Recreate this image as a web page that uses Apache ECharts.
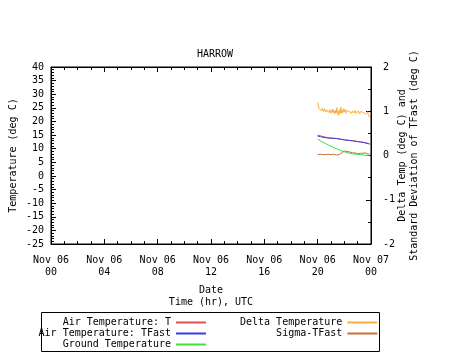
<!DOCTYPE html>
<html><head><meta charset="utf-8">
<script src="https://cdn.jsdelivr.net/npm/echarts@6/dist/echarts.min.js"></script>
<style>html,body{margin:0;padding:0;background:#fff}#c{width:474px;height:355px}</style>
</head><body><div id="c"></div>
<script>
var xTickLabels = ['Nov 06\n00','Nov 06\n04','Nov 06\n08','Nov 06\n12','Nov 06\n16','Nov 06\n20','Nov 07\n00'];
var hours = [20.0,20.1,20.2,20.3,20.4,20.5,20.6,20.7,20.8,20.9,
  21.0,21.1,21.2,21.3,21.4,21.5,21.6,21.7,21.8,21.9,
  22.0,22.1,22.2,22.3,22.4,22.5,22.6,22.7,22.8,22.9,
  23.0,23.1,23.2,23.3,23.4,23.5,23.6,23.7,23.8,23.9];
var airT = [14.9,14.8,14.75,14.6,14.45,14.35,14.25,14.1,14.0,13.98,
  13.9,13.85,13.85,13.8,13.75,13.75,13.65,13.55,13.45,13.35,
  13.3,13.25,13.15,13.1,13.05,13.0,12.95,12.85,12.8,12.7,
  12.65,12.55,12.5,12.45,12.35,12.3,12.15,12.05,11.9,11.75];
var airTFast = [14.6,14.5,14.45,14.3,14.2,14.1,14.05,13.95,13.9,13.9,
  13.85,13.8,13.8,13.75,13.7,13.7,13.6,13.5,13.4,13.3,
  13.25,13.2,13.1,13.05,13.0,12.95,12.9,12.8,12.75,12.65,
  12.6,12.5,12.45,12.4,12.3,12.25,12.1,12.0,11.85,11.7];
var groundT = [13.5,13.2,12.9,12.6,12.35,12.1,11.85,11.6,11.4,11.15,
  10.9,10.65,10.4,10.2,10.0,9.8,9.6,9.4,9.2,9.05,
  8.9,8.7,8.55,8.4,8.3,8.2,8.15,8.05,8.0,7.95,
  7.9,7.85,7.8,7.75,7.7,7.65,7.6,7.55,7.5,7.4];
var sigmaTFast = [0.02,0.00,0.03,0.01,0.02,0.00,0.02,0.01,0.03,0.01,
  0.02,0.00,0.03,0.02,0.01,0.03,0.02,0.05,0.06,0.08,
  0.10,0.07,0.09,0.06,0.08,0.05,0.06,0.04,0.06,0.05,
  0.04,0.06,0.05,0.03,0.05,0.04,0.06,0.04,0.03,0.05];
var hoursFine = [20.00,20.05,20.10,20.15,20.20,20.25,20.30,20.35,20.40,20.45,
  20.50,20.55,20.60,20.65,20.70,20.75,20.80,20.85,20.90,20.95,
  21.00,21.05,21.10,21.15,21.20,21.25,21.30,21.35,21.40,21.45,
  21.50,21.55,21.60,21.65,21.70,21.75,21.80,21.85,21.90,21.95,
  22.00,22.05,22.10,22.15,22.20,22.25,22.30,22.35,22.40,22.45,
  22.50,22.55,22.60,22.65,22.70,22.75,22.80,22.85,22.90,22.95,
  23.00,23.05,23.10,23.15,23.20,23.25,23.30,23.35,23.40,23.45,
  23.50,23.55,23.60,23.65,23.70,23.75,23.80,23.85,23.90];
var deltaT = [1.20,1.12,1.06,1.10,1.03,1.08,1.01,1.07,1.04,0.99,
  1.06,1.02,1.08,0.98,1.03,1.00,1.06,0.97,1.04,1.00,
  0.95,1.03,0.98,1.05,0.96,1.01,0.94,1.02,0.97,1.08,
  0.93,1.00,0.91,1.04,0.96,1.09,0.95,1.02,0.97,1.06,
  0.99,1.04,0.95,1.01,0.97,1.03,0.98,1.00,0.96,1.02,
  0.99,0.95,1.01,0.97,1.00,0.96,1.02,0.98,0.95,0.99,
  0.96,1.01,0.97,0.94,0.99,0.96,1.00,0.95,0.98,0.94,
  0.99,0.96,0.93,0.97,0.95,0.99,0.92,0.96,0.86];

var colors = {
  'Air Temperature: T':'#e8504f',
  'Air Temperature: TFast':'#3a3ae0',
  'Ground Temperature':'#3ee03e',
  'Delta Temperature':'#ffad33',
  'Sigma-TFast':'#c8703a'
};
function pairs(xs, ys){ return xs.map(function(x,i){ return [x, ys[i]]; }); }
var F = 'DejaVu Sans Mono';
var txt = {fontFamily:F, fontSize:10, color:'#000'};
var chart = echarts.init(document.getElementById('c'), null, {renderer:'canvas'});
function lineSeries(name, data, yi){
  var color = colors[name];
  return {name:name, type:'line', data:data, yAxisIndex:yi, xAxisIndex:0, symbol:'none', showSymbol:false,
    lineStyle:{width:1, color:color}, itemStyle:{color:color}, color:color, animation:false, silent:true};
}
function legendItems(names){
  return names.map(function(n){ return {name:n, itemStyle:{color:colors[n]}}; });
}
var axisCommon = {
  axisLine:{show:true, onZero:false, lineStyle:{color:'#000', width:1}},
  axisTick:{show:true, inside:true, length:5, lineStyle:{color:'#000'}},
  splitLine:{show:false},
  nameMoveOverlap:false
};
chart.setOption({
  animation:false,
  title:{text:'HARROW', left:210, top:44, textAlign:'center', textStyle:{fontFamily:F, fontSize:10, fontWeight:'normal', color:'#000'}},
  grid:{left:50, right:103, top:67, bottom:111, show:true, borderColor:'#000', borderWidth:1},
  xAxis:[
    Object.assign({}, axisCommon, {type:'value', min:0, max:24, interval:4, position:'bottom',
      minorTick:{show:true, splitNumber:4, length:3, lineStyle:{color:'#000'}},
      axisLabel:Object.assign({}, txt, {margin:10, lineHeight:12, formatter:function(v){ return xTickLabels[Math.round(v/4)]; }}),
      name:'Date\nTime (hr), UTC', nameLocation:'middle', nameGap:40,
      nameTextStyle:Object.assign({}, txt, {lineHeight:12, verticalAlign:'top'})}),
    Object.assign({}, axisCommon, {type:'value', min:0, max:24, interval:4, position:'top',
      minorTick:{show:true, splitNumber:4, length:3, lineStyle:{color:'#000'}},
      axisLabel:{show:false}})
  ],
  yAxis:[
    Object.assign({}, axisCommon, {type:'value', min:-25, max:40, interval:5, position:'left',
      minorTick:{show:true, splitNumber:5, length:3, lineStyle:{color:'#000'}},
      axisLabel:Object.assign({}, txt, {margin:7}),
      name:'Temperature (deg C)', nameLocation:'middle', nameGap:33, nameRotate:90,
      nameTextStyle:Object.assign({}, txt)}),
    Object.assign({}, axisCommon, {type:'value', min:-2, max:2, interval:1, position:'right',
      minorTick:{show:true, splitNumber:2, length:3, lineStyle:{color:'#000'}},
      axisLabel:Object.assign({}, txt, {margin:12}),
      name:'Delta Temp (deg C) and\nStandard Deviation of TFast (deg C)', nameLocation:'middle', nameGap:25, nameRotate:90,
      nameTextStyle:Object.assign({}, txt, {lineHeight:12})})
  ],
  legend:[
    {data:legendItems(['Air Temperature: T','Air Temperature: TFast','Ground Temperature']), orient:'vertical', align:'right',
      left:38, top:317, padding:0, itemGap:0, itemWidth:30, itemHeight:2, icon:'rect', selectedMode:false,
      textStyle:Object.assign({}, txt, {width:133, lineHeight:11, align:'right'})},
    {data:legendItems(['Delta Temperature','Sigma-TFast']), orient:'vertical', align:'right',
      left:240, top:317, padding:0, itemGap:0, itemWidth:30, itemHeight:2, icon:'rect', selectedMode:false,
      textStyle:Object.assign({}, txt, {width:102, lineHeight:11, align:'right'})}
  ],
  graphic:[{type:'rect', shape:{x:41.5, y:312.5, width:338, height:39}, style:{fill:'none', stroke:'#000', lineWidth:1}, silent:true}],
  series:[
    lineSeries('Air Temperature: T', pairs(hours, airT), 0),
    lineSeries('Air Temperature: TFast', pairs(hours, airTFast), 0),
    lineSeries('Ground Temperature', pairs(hours, groundT), 0),
    lineSeries('Delta Temperature', pairs(hoursFine, deltaT), 1),
    lineSeries('Sigma-TFast', pairs(hours, sigmaTFast), 1)
  ]
});
</script></body></html>
